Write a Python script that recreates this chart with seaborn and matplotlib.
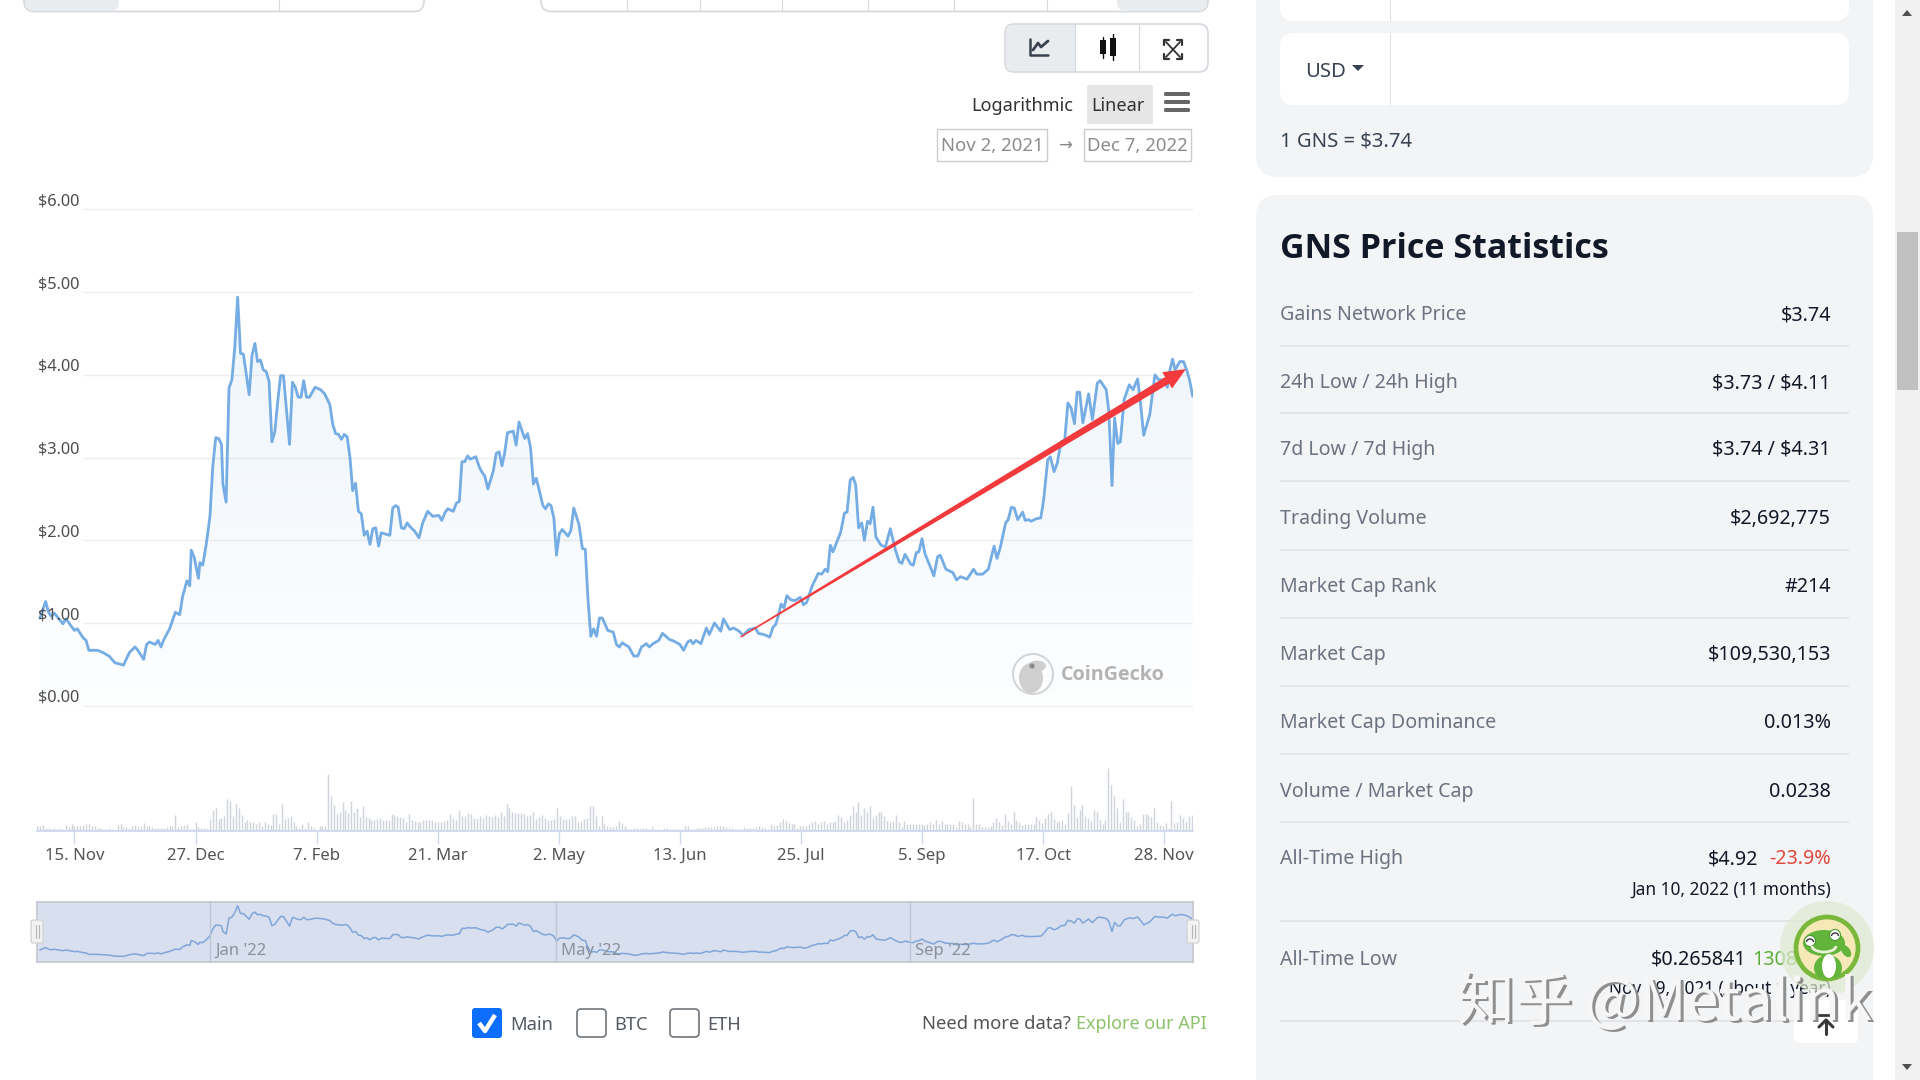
import numpy as np
import matplotlib
matplotlib.use("Agg")
import matplotlib.pyplot as plt
import seaborn as sns
from matplotlib.patches import FancyBboxPatch, Circle, Ellipse, Polygon, Rectangle, Arc

# price, days since Nov 2 2021
price_days = [1, 3, 4, 5, 6, 9, 10, 13, 14, 16, 17, 18, 21, 23, 25, 27, 30, 32, 34, 35, 37, 38, 39, 41, 42, 43, 44, 46, 48, 49.5,
              50.5, 52, 53, 53.5, 54.5, 56, 56.5, 57.5, 58.7, 60, 61, 62, 63, 64, 64.5, 65.6, 66.6, 67.6, 68.6, 69.6,
              70.6, 71.6, 73.6, 74.6, 75.6, 76.5, 77.5, 78.5, 79.5, 80.5, 81.5, 82.5, 83.5, 84.5, 85.5, 87.6, 88.6, 89.6, 90.6, 91.6,
              92.5, 93.5, 94.5, 96.5, 98.4, 99.8, 101.6, 102.6, 103.6, 104.6, 105.6, 106.6, 107.6, 108.6, 109.5, 110.5, 111.5, 112.5, 113.5, 114.5,
              115.5, 116.5, 117.5, 118.5, 119.4, 122.4, 123.4, 124.4, 125.3, 126.4, 127.4, 128.4, 129.5, 131, 132.5, 133.8, 135.5, 137.3, 139.4, 140.4,
              141.6, 142.5, 144.4, 145.5, 146.5, 147.4, 148.4, 149.4, 150.3, 152.2, 153.6, 154.6, 155.3, 156.4, 158.3, 159.3, 160.3, 161.3, 162.2, 163.2,
              165.2, 166.2, 167.2, 169.2, 170.2, 171.2, 172.2, 173.2, 174.1, 175.5, 176.4, 177.4, 178.3, 179.3, 180.2, 181.2, 182.2, 184.2, 185.2, 186.2,
              188, 189.2, 190.2, 191.1, 192.1, 193.1, 194.1, 195.1, 196.1, 198, 199.9, 201, 202,
              203, 205.3, 207, 208.4, 209.7, 211.4, 212.4, 213.7, 215.7, 217, 219.4, 221, 223, 224.3, 225.7, 226.7, 227.6, 228.6, 230.3, 232.2,
              233.2, 235, 237.2, 238.1, 240.3, 241.6, 243.6, 244.9, 246.9, 249.2, 250.2, 252.2, 254.2, 255.3, 256.2, 257.1, 258.1, 259.1, 260.1, 261.5,
              262.9, 264.8, 265.9, 267, 268.8, 271, 272.2, 273.4, 274.3, 275.2, 276.1, 278.8, 280.1, 281, 282.1, 283.1, 284, 285, 286.1, 287,
              288.1, 289, 290, 291, 292.8, 294.3, 296, 297.8, 299.1, 300, 301.1, 303.1, 304, 305, 305.9, 307, 308, 309.4, 311.1, 312.4,
              313.3, 315.3, 317.7, 319, 320.3, 322.6, 324.9, 326, 328, 330, 332, 333, 334.2, 336, 336.9, 338, 339, 340.2, 341.9, 342.8,
              343.9, 344.9, 346.6, 348.2, 349.2, 350.6, 351.5, 352.8, 353.9, 355.2, 356.5, 357.6, 358.7, 359.9, 360.8, 361.7, 362.8, 364.8, 366.1, 367.8,
              368.8, 370.9, 371.8, 372.9, 373.8, 374.9, 375.8, 377.1, 378.9, 380.2, 381.8, 382.8, 383.9, 386, 387.8, 389.1, 390.8, 392.1, 393, 393.9,
              394.8, 396.4, 397.7, 398.8, 399.8, 400.9]
price_values = [1.06, 1.26, 1.13, 1.08, 1.12, 0.99, 1.05, 0.91, 0.93, 0.82, 0.79, 0.67, 0.67, 0.64, 0.60, 0.52, 0.49, 0.64, 0.71, 0.67, 0.56, 0.74, 0.77, 0.74, 0.79, 0.71, 0.80, 0.93, 1.13, 1.10,
                1.32, 1.51, 1.45, 1.88, 1.80, 1.54, 1.73, 1.70, 1.95, 2.29, 2.90, 3.24, 3.23, 3.16, 2.68, 2.46, 3.84, 3.94, 4.33, 4.94,
                4.26, 4.25, 3.76, 4.24, 4.38, 4.16, 4.18, 4.06, 4.04, 3.92, 3.19, 3.31, 3.68, 3.99, 3.99, 3.16, 3.91, 3.85, 3.73, 3.73,
                3.93, 3.73, 3.73, 3.85, 3.82, 3.77, 3.64, 3.40, 3.29, 3.28, 3.22, 3.28, 3.25, 2.99, 2.60, 2.69, 2.35, 2.32, 2.06, 2.11,
                1.95, 2.14, 2.15, 1.93, 2.09, 2.06, 2.39, 2.42, 2.40, 2.15, 2.14, 2.21, 2.16, 2.11, 2.03, 2.21, 2.35, 2.29, 2.30, 2.24,
                2.34, 2.38, 2.35, 2.45, 2.47, 2.95, 2.95, 3.02, 2.98, 3.01, 2.87, 2.81, 2.78, 2.62, 2.84, 3.05, 3.07, 2.90, 3.05, 3.30,
                3.32, 3.15, 3.43, 3.23, 3.29, 3.12, 2.68, 2.75, 2.62, 2.42, 2.38, 2.44, 2.42, 2.27, 1.82, 2.08, 2.13, 2.05, 2.12, 2.39,
                2.19, 1.90, 1.89, 1.30, 0.84, 0.93, 0.84, 1.06, 1.06, 0.91, 0.89, 0.74, 0.71,
                0.76, 0.71, 0.60, 0.60, 0.71, 0.75, 0.71, 0.75, 0.79, 0.875, 0.80, 0.78, 0.74, 0.67, 0.77, 0.79, 0.75, 0.79, 0.75, 0.94,
                0.86, 1.00, 0.90, 1.05, 0.92, 0.94, 0.90, 0.85, 0.92, 0.94, 0.875, 0.86, 0.83, 0.95, 0.98, 1.08, 1.23, 1.18, 1.33, 1.28,
                1.27, 1.31, 1.22, 1.25, 1.44, 1.60, 1.59, 1.65, 1.62, 1.94, 1.86, 2.10, 2.33, 2.34, 2.73, 2.76, 2.67, 2.15, 2.21, 2.00,
                2.23, 2.20, 2.40, 2.04, 1.94, 1.92, 2.14, 1.88, 1.74, 1.72, 1.83, 1.71, 1.70, 1.85, 1.86, 2.02, 1.84, 1.72, 1.57, 1.80,
                1.82, 1.65, 1.61, 1.52, 1.56, 1.53, 1.65, 1.59, 1.59, 1.65, 1.93, 1.78, 1.92, 2.21, 2.25, 2.40, 2.39, 2.25, 2.34, 2.24,
                2.25, 2.23, 2.26, 2.27, 2.49, 2.97, 3.01, 2.83, 2.93, 3.19, 3.21, 3.66, 3.60, 3.41, 3.79, 3.79, 3.42, 3.77, 3.46, 3.90,
                3.93, 3.82, 3.56, 2.66, 3.48, 3.17, 3.19, 3.70, 3.88, 3.82, 3.95, 3.66, 3.27, 3.52, 4.00, 3.94, 3.94, 3.85, 4.06, 4.19,
                4.06, 4.16, 4.16, 4.06, 3.94, 3.74]

# volume bars, no scale on the chart so these are relative heights
volume_nov_mar = [12, 14, 16, 8, 6, 5, 6, 5, 8, 5, 16, 10, 18, 12, 12, 14, 16, 18, 18, 14,
                  12, 8, 6, 5, 5, 6, 3, 2, 16, 18, 10, 10, 8, 12, 16, 12, 14, 22, 14, 12,
                  10, 8, 6, 8, 8, 10, 12, 12, 46, 10, 12, 16, 18, 4, 4, 24, 10, 6, 6, 8,
                  34, 62, 68, 34, 38, 44, 94, 88, 42, 78, 66, 46, 24, 30, 24, 26, 20, 26, 14, 24,
                  20, 16, 50, 50, 18, 78, 34, 38, 44, 26, 14, 6, 18, 8, 24, 14, 6, 2, 14, 14,
                  14, 168, 104, 76, 50, 56, 84, 62, 52, 88, 54, 66, 40, 72, 40, 36, 32, 32, 34, 36,
                  30, 30, 32, 48, 46, 42, 40, 36, 24, 50, 30, 28, 26]
volume_mar_jul = [26, 30, 30, 32, 32, 24, 26, 26, 28, 30, 48, 38, 32, 60, 42, 44, 52, 48, 38, 34,
                  42, 36, 46, 42, 40, 46, 40, 56, 42, 78, 68, 56, 52, 52, 52, 50, 42, 46, 56, 34,
                  40, 46, 38, 30, 32, 34, 66, 42, 34, 34, 34, 42, 42, 24, 28, 34, 38, 72, 74, 42,
                  14, 42, 18, 12, 10, 10, 14, 28, 22, 14, 3, 3, 8, 6, 6, 8, 6, 5, 10, 3,
                  3, 2, 8, 6, 5, 5, 5, 3, 3, 12, 14, 3, 3, 6, 8, 8, 10, 10, 10, 10,
                  12, 14, 14, 10, 8, 6, 5, 3, 5, 10, 6, 8, 8, 10, 14, 10, 8, 5, 18, 14,
                  16, 26, 34, 28, 22, 18, 18, 8, 12, 14, 14, 20, 24, 28, 18]
volume_jul_dec = [24, 28, 18, 24, 26, 28, 46, 40, 26, 30, 46, 72, 56, 86, 46, 68, 56, 74, 38, 46,
                  56, 56, 42, 28, 26, 28, 46, 24, 10, 28, 20, 20, 20, 20, 20, 18, 16, 20, 24, 20,
                  30, 20, 28, 18, 18, 20, 20, 10, 28, 24, 20, 20, 10, 96, 18, 20, 10, 10, 10, 12,
                  24, 38, 24, 16, 48, 28, 20, 56, 30, 24, 16, 18, 18, 20, 20, 40, 30, 22, 36, 50,
                  54, 34, 24, 28, 30, 20, 52, 132, 76, 40, 60, 76, 42, 38, 28, 60, 54, 30, 20, 30,
                  186, 136, 104, 68, 24, 94, 54, 56, 40, 32, 14, 18, 50, 50, 46, 40, 68, 24, 16, 12,
                  22, 8, 88, 22, 26, 46, 36, 24, 42, 46]

price_tick_values = [0, 1, 2, 3, 4, 5, 6]
price_tick_labels = ["$0.00", "$1.00", "$2.00", "$3.00", "$4.00", "$5.00", "$6.00"]
date_tick_days = [13, 55, 97, 139, 181, 223, 265, 307, 349, 391]
date_tick_labels = ["15. Nov", "27. Dec", "7. Feb", "21. Mar", "2. May", "13. Jun", "25. Jul", "5. Sep", "17. Oct", "28. Nov"]
nav_tick_days = [60, 180, 303]
nav_tick_labels = ["Jan '22", "May '22", "Sep '22"]

stat_labels = ["Gains Network Price", "24h Low / 24h High", "7d Low / 7d High", "Trading Volume", "Market Cap Rank",
               "Market Cap", "Market Cap Dominance", "Volume / Market Cap"]
stat_values = ["$3.74", "$3.73 / $4.11", "$3.74 / $4.31", "$2,692,775", "#214", "$109,530,153", "0.013%", "0.0238"]
stat_rows_y = [315, 383, 450, 519, 587, 655, 723, 792]
stat_lines_y = [346, 413, 481, 550, 618, 686, 754, 822, 921, 1021]

sns.set_theme(style="white")
plt.rcParams["font.family"] = ["Noto Sans", "Noto Sans CJK SC", "DejaVu Sans"]
plt.rcParams["text.parse_math"] = False  # labels are full of dollar signs

W, H = 1920, 1080
fig = plt.figure(figsize=(19.2, 10.8), dpi=100, facecolor="white")


def px_axes(left, top, right, bottom, z):
    return fig.add_axes([left / W, 1 - bottom / H, (right - left) / W, (bottom - top) / H], zorder=z)


def box(ax, x0, y0, x1, y1, r=0, fc="white", ec="none", lw=1, z=1):
    p = FancyBboxPatch((x0, y0), x1 - x0, y1 - y0, boxstyle=f"round,pad=0,rounding_size={r}",
                       fc=fc, ec=ec, lw=lw, zorder=z)
    ax.add_patch(p)
    return p


# page background and the web page furniture
page = px_axes(0, 0, W, H, 0)
page.set_xlim(0, W)
page.set_ylim(H, 0)
page.axis("off")

top = px_axes(0, 0, W, H, 5)
top.set_xlim(0, W)
top.set_ylim(H, 0)
top.axis("off")
top.patch.set_alpha(0)

# tabs cut off at top of the screenshot
border = "#d5d8dd"
box(page, 24, -30, 424, 11.5, 10, "white", border, 1.2)
box(page, 25, -30, 119, 11, 9, "#e9ecef")
page.plot([279, 279], [0, 11], color=border, lw=0.8)
box(page, 541, -30, 1208, 11.5, 10, "white", border, 1.2)
box(page, 1117, -30, 1207, 11, 9, "#e9ecef")
for x in [627, 700, 782, 868, 954, 1047]:
    page.plot([x, x], [0, 11], color=border, lw=0.8)

# chart type buttons
box(page, 1005, 24, 1208, 72, 9, "white", border, 1.2)
box(page, 1006, 25, 1075, 71, 8, "#e9ecef")
page.add_patch(Rectangle((1060, 25), 15, 46, fc="#e9ecef", ec="none"))
page.plot([1139, 1139], [24, 72], color=border, lw=0.8)
page.plot([1075, 1075], [24, 72], color=border, lw=0.8)
page.plot([1030, 1030, 1048], [39, 55, 55], color="#39424e", lw=1.8)
page.plot([1033, 1038, 1041, 1048], [50, 43, 47, 41], color="#39424e", lw=2)
page.plot([1103, 1103], [37, 58], color="#111", lw=1)
page.plot([1113, 1113], [34, 60], color="#111", lw=1)
page.add_patch(Rectangle((1100, 40), 6, 14, fc="#111", ec="none"))
page.add_patch(Rectangle((1110, 38), 6, 18, fc="#111", ec="none"))
page.plot([1166, 1180], [42, 57], color="#333", lw=1.3)
page.plot([1166, 1180], [57, 42], color="#333", lw=1.3)
for cx, cy, sx, sy in [(1164, 40, 1, 1), (1182, 40, -1, 1), (1164, 59, 1, -1), (1182, 59, -1, -1)]:
    page.plot([cx + 5 * sx, cx, cx], [cy, cy, cy + 5 * sy], color="#333", lw=1.6)

page.text(1073, 106, "Logarithmic", ha="right", va="center", fontsize=13.1, color="#333")
box(page, 1087, 85, 1153, 124, 2, "#e6e6e6")
page.text(1118, 106, "Linear", ha="center", va="center", fontsize=13.1, color="#333")
for y in [94, 102, 110]:
    box(page, 1164, y - 2, 1190, y + 2, 1.5, "#666666")

for x0, x1, label in [(937, 1047, "Nov 2, 2021"), (1084, 1191, "Dec 7, 2022")]:
    page.add_patch(Rectangle((x0, 129), x1 - x0, 32, fc="white", ec="#cccccc", lw=1))
    page.text((x0 + x1) / 2, 146, label, ha="center", va="center", fontsize=13.4, color="#8c8c8c")
page.text(1065, 146, "→", ha="center", va="center", fontsize=12, color="#888888", family="DejaVu Sans")

# right column cards
panel = "#f3f4f6"
box(page, 1256, -40, 1873, 177, 22, panel)
box(page, 1256, 195, 1873, 1130, 22, panel)
box(page, 1280, -30, 1849, 21, 14, "white")
box(page, 1280, 33, 1849, 105, 14, "white")
page.plot([1390, 1390], [0, 21], color="#e0e2e6", lw=0.8)
page.plot([1390, 1390], [33, 105], color="#e0e2e6", lw=0.8)
page.text(1305, 72, "USD", ha="left", va="center", fontsize=14.6, color="#374151")
page.add_patch(Polygon([[1352, 65], [1364, 65], [1358, 71]], fc="#374151", ec="none"))
page.text(1280, 141, "1 GNS = $3.74", ha="left", va="center", fontsize=14.6, color="#374151")

page.text(1280, 248.5, "GNS Price Statistics", ha="left", va="center", fontsize=24.45, fontweight="bold",
          family="Open Sans", color="#111827")

label_col, value_col = "#6b7280", "#111827"
for lab, val, y in zip(stat_labels, stat_values, stat_rows_y):
    page.text(1280, y, lab, ha="left", va="center", fontsize=14.1, color=label_col)
    page.text(1831, y, val, ha="right", va="center", fontsize=14.2, color=value_col)
for y in stat_lines_y:
    page.plot([1280, 1849], [y, y], color="#dfe1e5", lw=1.2, solid_capstyle="butt")

page.text(1280, 859, "All-Time High", ha="left", va="center", fontsize=14.1, color=label_col)
page.text(1758, 859, "$4.92", ha="right", va="center", fontsize=14.2, color=value_col)
page.text(1831, 859, "-23.9%", ha="right", va="center", fontsize=14.2, color="#e0483e")
page.text(1831, 890, "Jan 10, 2022 (11 months)", ha="right", va="center", fontsize=12.4, color=value_col)
page.text(1280, 960, "All-Time Low", ha="left", va="center", fontsize=14.1, color=label_col)
page.text(1746, 960, "$0.265841", ha="right", va="center", fontsize=14.2, color=value_col)
page.text(1752, 960, "1308.0%", ha="left", va="center", fontsize=14.2, color="#5fae3c")
page.text(1831, 989, "Nov 29, 2021 (about 1 year)", ha="right", va="center", fontsize=12.4, color=value_col)

# scrollbar
page.add_patch(Rectangle((1895, 0), 25, H, fc="#f1f1f1", ec="none"))
page.add_patch(Rectangle((1897, 232), 21, 158, fc="#c1c1c1", ec="none"))
page.add_patch(Polygon([[1902, 16], [1912, 16], [1907, 10]], fc="#505050", ec="none"))
page.add_patch(Polygon([[1902, 1064], [1912, 1064], [1907, 1070]], fc="#505050", ec="none"))

# price chart
ax = px_axes(37, 205, 1193, 710, 2)
ax.patch.set_alpha(0)
sns.lineplot(x=price_days, y=price_values, ax=ax, color="#74ace3", lw=2.0, estimator=None, sort=False, errorbar=None)
ax.set_xlim(0, 401)
ax.set_ylim(-4.3 / 82.7, 6 + 4.4 / 82.7)
ax.set_xlabel("")
ax.set_ylabel("")
ax.set_xticks([])
ax.set_yticks([])
sns.despine(ax=ax, left=True, bottom=True)

for v, lab in zip(price_tick_values, price_tick_labels):
    ax.hlines(v, 16, 401, color="#eeeeee", lw=1, zorder=0)
    ax.text(0.4, v + 0.095, lab, ha="left", va="center", fontsize=11.8, color="#4d4d4d")

fill = ax.fill_between(price_days, price_values, 0, color="none")
grad = np.zeros((200, 2, 4))
grad[..., :3] = matplotlib.colors.to_rgb("#7cb5ec")
grad[..., 3] = np.linspace(0.17, 0.012, 200)[:, None]
im = ax.imshow(grad, extent=(0, 401, 0, 6), origin="upper", aspect="auto", zorder=0.5)
im.set_clip_path(fill.get_paths()[0], transform=ax.transData)
ax.set_xlim(0, 401)
ax.set_ylim(-4.3 / 82.7, 6 + 4.4 / 82.7)

# CoinGecko credit
page.add_patch(Circle((1033, 674), 20, fc="white", ec="#d4d4d4", lw=1.4))
top.add_patch(Ellipse((1031, 678), 24, 30, fc="#cfcfcf", ec="none"))
top.add_patch(Ellipse((1037, 666), 18, 11, fc="#cfcfcf", ec="none"))
top.add_patch(Circle((1032, 666), 2.6, fc="#8a8a8a", ec="none"))
top.text(1061, 675, "CoinGecko", ha="left", va="center", fontsize=14.2, fontweight="bold",
         family="Open Sans", color="#b3b3b3")

# volume bars
vol = px_axes(37, 762, 1193, 830.5, 2)
vol.patch.set_alpha(0)
segments = [(volume_nov_mar, 0, 132), (volume_mar_jul, 133, 271), (volume_jul_dec, 272, 400.5)]
for heights, first, last in segments:
    vol.vlines(np.linspace(first, last, len(heights)), 0, heights, color="#d0d4dc", lw=1.05)
vol.set_xlim(0, 401)
vol.set_ylim(0, 204)
vol.set_yticks([])
sns.despine(ax=vol, left=True, top=True, right=True)
vol.spines["bottom"].set_color("#ccd6eb")
vol.spines["bottom"].set_linewidth(1.2)

# date axis, ticks hang off the volume panel
vol.set_xticks(date_tick_days)
vol.set_xticklabels(date_tick_labels, fontsize=12.1, color="#555555")
vol.tick_params(axis="x", length=9.4, width=0.9, color="#ccd6eb", pad=3.4, bottom=True)

# navigator
nav = px_axes(37, 902, 1193, 962, 2)
nav.set_facecolor("#d8dfee")
sns.lineplot(x=price_days, y=price_values, ax=nav, color="#7fa6da", lw=1.1, estimator=None, sort=False, errorbar=None)
nav.set_xlim(0, 401)
nav.set_ylim(0, 5.27)
nav.set_xlabel("")
nav.set_ylabel("")
nav.set_xticks([])
nav.set_yticks([])
for s in nav.spines.values():
    s.set_visible(True)
    s.set_color("#c6c9d0")
    s.set_linewidth(1.3)
for d, lab in zip(nav_tick_days, nav_tick_labels):
    nav.axvline(d, color="#bdc4d4", lw=1)
    nav.text(d + 1.7, 0.95, lab, ha="left", va="center", fontsize=12, color="#8b909b")

for x in [37, 1193]:
    box(top, x - 6, 920, x + 6, 943, 2, "#f2f2f2", "#d2d2d2", 0.9)
    top.plot([x - 1.5, x - 1.5], [925, 938], color="#b5b5b5", lw=0.8)
    top.plot([x + 1.5, x + 1.5], [925, 938], color="#b5b5b5", lw=0.8)

# series checkboxes and API link
box(page, 472, 1008, 502, 1038, 3, "#0d6efd")
page.plot([479, 485, 495], [1023, 1031, 1015], color="white", lw=3.2, solid_capstyle="butt")
box(page, 577, 1009, 606, 1037, 4, "white", "#70757c", 1.2)
box(page, 670, 1009, 699, 1037, 4, "white", "#70757c", 1.2)
page.text(510, 1024.5, "Main", ha="left", va="center", fontsize=13.2, color="#555b63")
page.text(614, 1024.5, "BTC", ha="left", va="center", fontsize=13.2, color="#555b63")
page.text(707, 1024.5, "ETH", ha="left", va="center", fontsize=13.2, color="#555b63")
page.text(922, 1024, "Need more data?", ha="left", va="center", fontsize=13.3, color="#555555")
page.text(1076, 1024, "Explore our API", ha="left", va="center", fontsize=12.95, color="#8dc26b")

# hand drawn red arrow over the chart
tail = np.array([740.5, 637.0])
tip = np.array([1186.0, 369.0])
unit = (tip - tail) / np.linalg.norm(tip - tail)
normal = np.array([-unit[1], unit[0]])
neck = tip - 22 * unit
top.add_patch(Polygon([tail + 0.7 * normal, neck + 3.8 * normal, neck + 9.5 * normal, tip,
                       neck - 9.5 * normal, neck - 3.8 * normal, tail - 0.7 * normal],
                      fc="#f23a3c", ec="none"))

# back to top button and frog badge
box(top, 1794, 1000, 1858, 1043, 5, "white")
top.plot([1817, 1835], [1015, 1015], color="#3a3a3a", lw=2)
top.plot([1826, 1826], [1020, 1034], color="#3a3a3a", lw=2.2)
top.plot([1819, 1826, 1833], [1027, 1020, 1027], color="#3a3a3a", lw=2.2)

top.add_patch(Circle((1827, 948), 47, fc="#dfe9d0", ec="none", alpha=0.7))
badge = Circle((1827, 948), 31, fc="#f7e8b8", ec="#7ab83c", lw=3.4)
top.add_patch(badge)
frog = [Ellipse((1824, 943), 42, 26, fc="#63b43b", ec="none"),
        Ellipse((1828, 968), 28, 26, fc="#63b43b", ec="none"),
        Ellipse((1829, 966), 14, 24, fc="white", ec="none"),
        Ellipse((1846, 951), 8, 14, angle=-35, fc="#63b43b", ec="none")]
for part in frog:
    top.add_patch(part)
    part.set_clip_path(badge)
top.add_patch(Circle((1810, 941), 5.5, fc="white", ec="#4c9a2e", lw=0.8))
top.add_patch(Circle((1835, 935), 5.5, fc="white", ec="#4c9a2e", lw=0.8))
top.add_patch(Arc((1810, 942), 7, 6, theta1=180, theta2=360, ec="#333", lw=1))
top.add_patch(Arc((1835, 936), 7, 6, theta1=180, theta2=360, ec="#333", lw=1))
top.add_patch(Arc((1824, 946), 24, 12, theta1=0, theta2=180, ec="#e9f2d8", lw=2))

# zhihu watermark
wm = "知乎 @Metalink"
wm_font = ["Noto Sans CJK SC", "DejaVu Sans"]
top.text(1460, 1006, wm, ha="left", va="center", fontsize=41.5, color="#8f8f8f", family=wm_font)
top.text(1457, 1004, wm, ha="left", va="center", fontsize=41.5, color="#f6f6f6", family=wm_font)

fig.savefig("out.png", dpi=100)
